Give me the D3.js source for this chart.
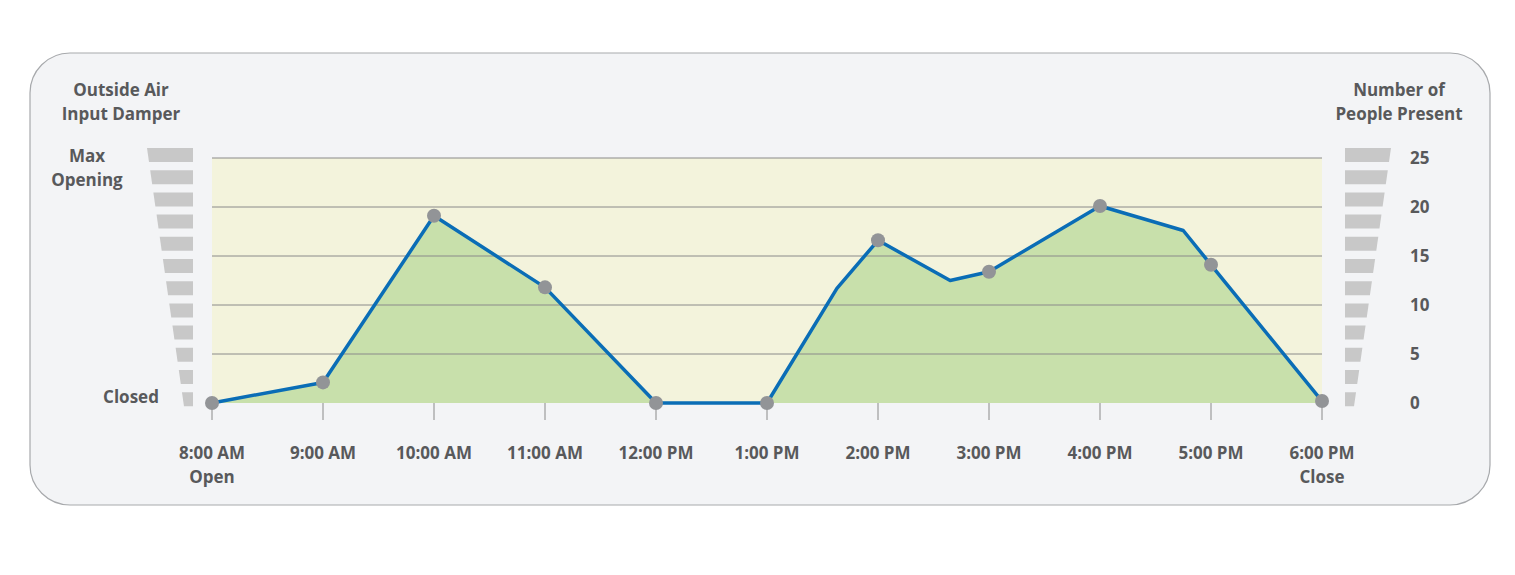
<!DOCTYPE html>
<html><head><meta charset="utf-8">
<script src="https://cdn.jsdelivr.net/npm/d3@7"></script>
<style>body{margin:0;background:#fff;}text{font-family:"Open Sans",sans-serif;font-weight:bold;fill:#58595b;}</style>
</head><body>
<script>
// data (time in hours, people present)
var hourLabels = ["8:00 AM","9:00 AM","10:00 AM","11:00 AM","12:00 PM","1:00 PM","2:00 PM","3:00 PM","4:00 PM","5:00 PM","6:00 PM"];
var hourSub = ["Open","","","","","","","","","","Close"];
var lineTimes = [8, 9, 10, 11, 12, 13, 13.63, 14, 14.65, 15, 16, 16.75, 17, 18];
var linePeople = [0, 2.1, 19.1, 11.8, 0, 0, 11.7, 16.6, 12.5, 13.4, 20.1, 17.6, 14.1, 0.2];
var dotTimes = [8, 9, 10, 11, 12, 13, 14, 15, 16, 17, 18];
var peopleTicks = [0, 5, 10, 15, 20, 25];

var svg = d3.select("body").append("svg").attr("width", 1515).attr("height", 575);

// card
svg.append("rect").attr("x", 30).attr("y", 53).attr("width", 1460).attr("height", 452)
	.attr("rx", 40).attr("fill", "#f3f4f6").attr("stroke", "#a7a9ac").attr("stroke-width", 1.2);

var x = d3.scaleLinear().domain([8, 18]).range([212, 1322]);
var y = d3.scaleLinear().domain([0, 25]).range([403, 158]);

// plot background
svg.append("rect").attr("x", x(8)).attr("y", y(25)).attr("width", x(18) - x(8)).attr("height", y(0) - y(25))
	.attr("fill", "#f3f3dc");

var pts = lineTimes.map(function(t, i) { return [t, linePeople[i]]; });

svg.append("path").datum(pts)
	.attr("fill", "#c8e0ab")
	.attr("d", d3.area().x(function(d){ return x(d[0]); }).y0(y(0)).y1(function(d){ return y(d[1]); }));

// grid
svg.selectAll(".grid").data(peopleTicks.slice(1)).enter().append("line")
	.attr("x1", x(8)).attr("x2", x(18))
	.attr("y1", function(d){ return y(d); }).attr("y2", function(d){ return y(d); })
	.attr("stroke", "#8a8a8a").attr("stroke-width", 1);

// hour ticks
svg.selectAll(".tick").data(dotTimes).enter().append("line")
	.attr("x1", function(d){ return x(d); }).attr("x2", function(d){ return x(d); })
	.attr("y1", y(0)).attr("y2", y(0) + 17)
	.attr("stroke", "#8a8a8a").attr("stroke-width", 1);

svg.append("path").datum(pts)
	.attr("fill", "none").attr("stroke", "#0a6db6").attr("stroke-width", 3.5).attr("stroke-linejoin", "round")
	.attr("d", d3.line().x(function(d){ return x(d[0]); }).y(function(d){ return y(d[1]); }));

// dots at whole hours
svg.selectAll(".dot").data(dotTimes).enter().append("circle")
	.attr("cx", function(d){ return x(d); })
	.attr("cy", function(d){ return y(linePeople[lineTimes.indexOf(d)]); })
	.attr("r", 7).attr("fill", "#929497");

// x labels
svg.selectAll(".xl").data(hourLabels).enter().append("text")
	.attr("x", function(d, i){ return x(8 + i); }).attr("y", 459)
	.attr("text-anchor", "middle").attr("font-size", 17).text(function(d){ return d; });
svg.selectAll(".xs").data(hourSub).enter().append("text")
	.attr("x", function(d, i){ return x(8 + i); }).attr("y", 483)
	.attr("text-anchor", "middle").attr("font-size", 17).text(function(d){ return d; });

// right axis labels
svg.selectAll(".yl").data(peopleTicks).enter().append("text")
	.attr("x", 1410).attr("y", function(d){ return y(d) + 6; })
	.attr("text-anchor", "start").attr("font-size", 17).text(function(d){ return d; });

// tapered bars
var nBars = 12, barTop = 148, barPitch = 22.2, barH = 14;
var wTop = 46, wBot = 9;
function barW(yy) { return wTop + (wBot - wTop) * (yy - barTop) / (nBars * barPitch - 8); }
var bars = d3.range(nBars).map(function(i){ return barTop + i * barPitch; });
svg.selectAll(".lb").data(bars).enter().append("polygon")
	.attr("fill", "#c8c8c8")
	.attr("points", function(b){
		var r = 193;
		return [[r - barW(b), b], [r, b], [r, b + barH], [r - barW(b + barH), b + barH]].join(" ");
	});
svg.selectAll(".rb").data(bars).enter().append("polygon")
	.attr("fill", "#c8c8c8")
	.attr("points", function(b){
		var l = 1345;
		return [[l, b], [l + barW(b), b], [l + barW(b + barH), b + barH], [l, b + barH]].join(" ");
	});

// titles
function lines(arr, xx, yy, anchor) {
	arr.forEach(function(t, i){
		svg.append("text").attr("x", xx).attr("y", yy + i * 24).attr("text-anchor", anchor)
			.attr("font-size", 17).text(t);
	});
}
lines(["Outside Air", "Input Damper"], 121, 96, "middle");
lines(["Number of", "People Present"], 1399, 96, "middle");
lines(["Max", "Opening"], 87, 162, "middle");
lines(["Closed"], 131, 403, "middle");
</script>
</body></html>
